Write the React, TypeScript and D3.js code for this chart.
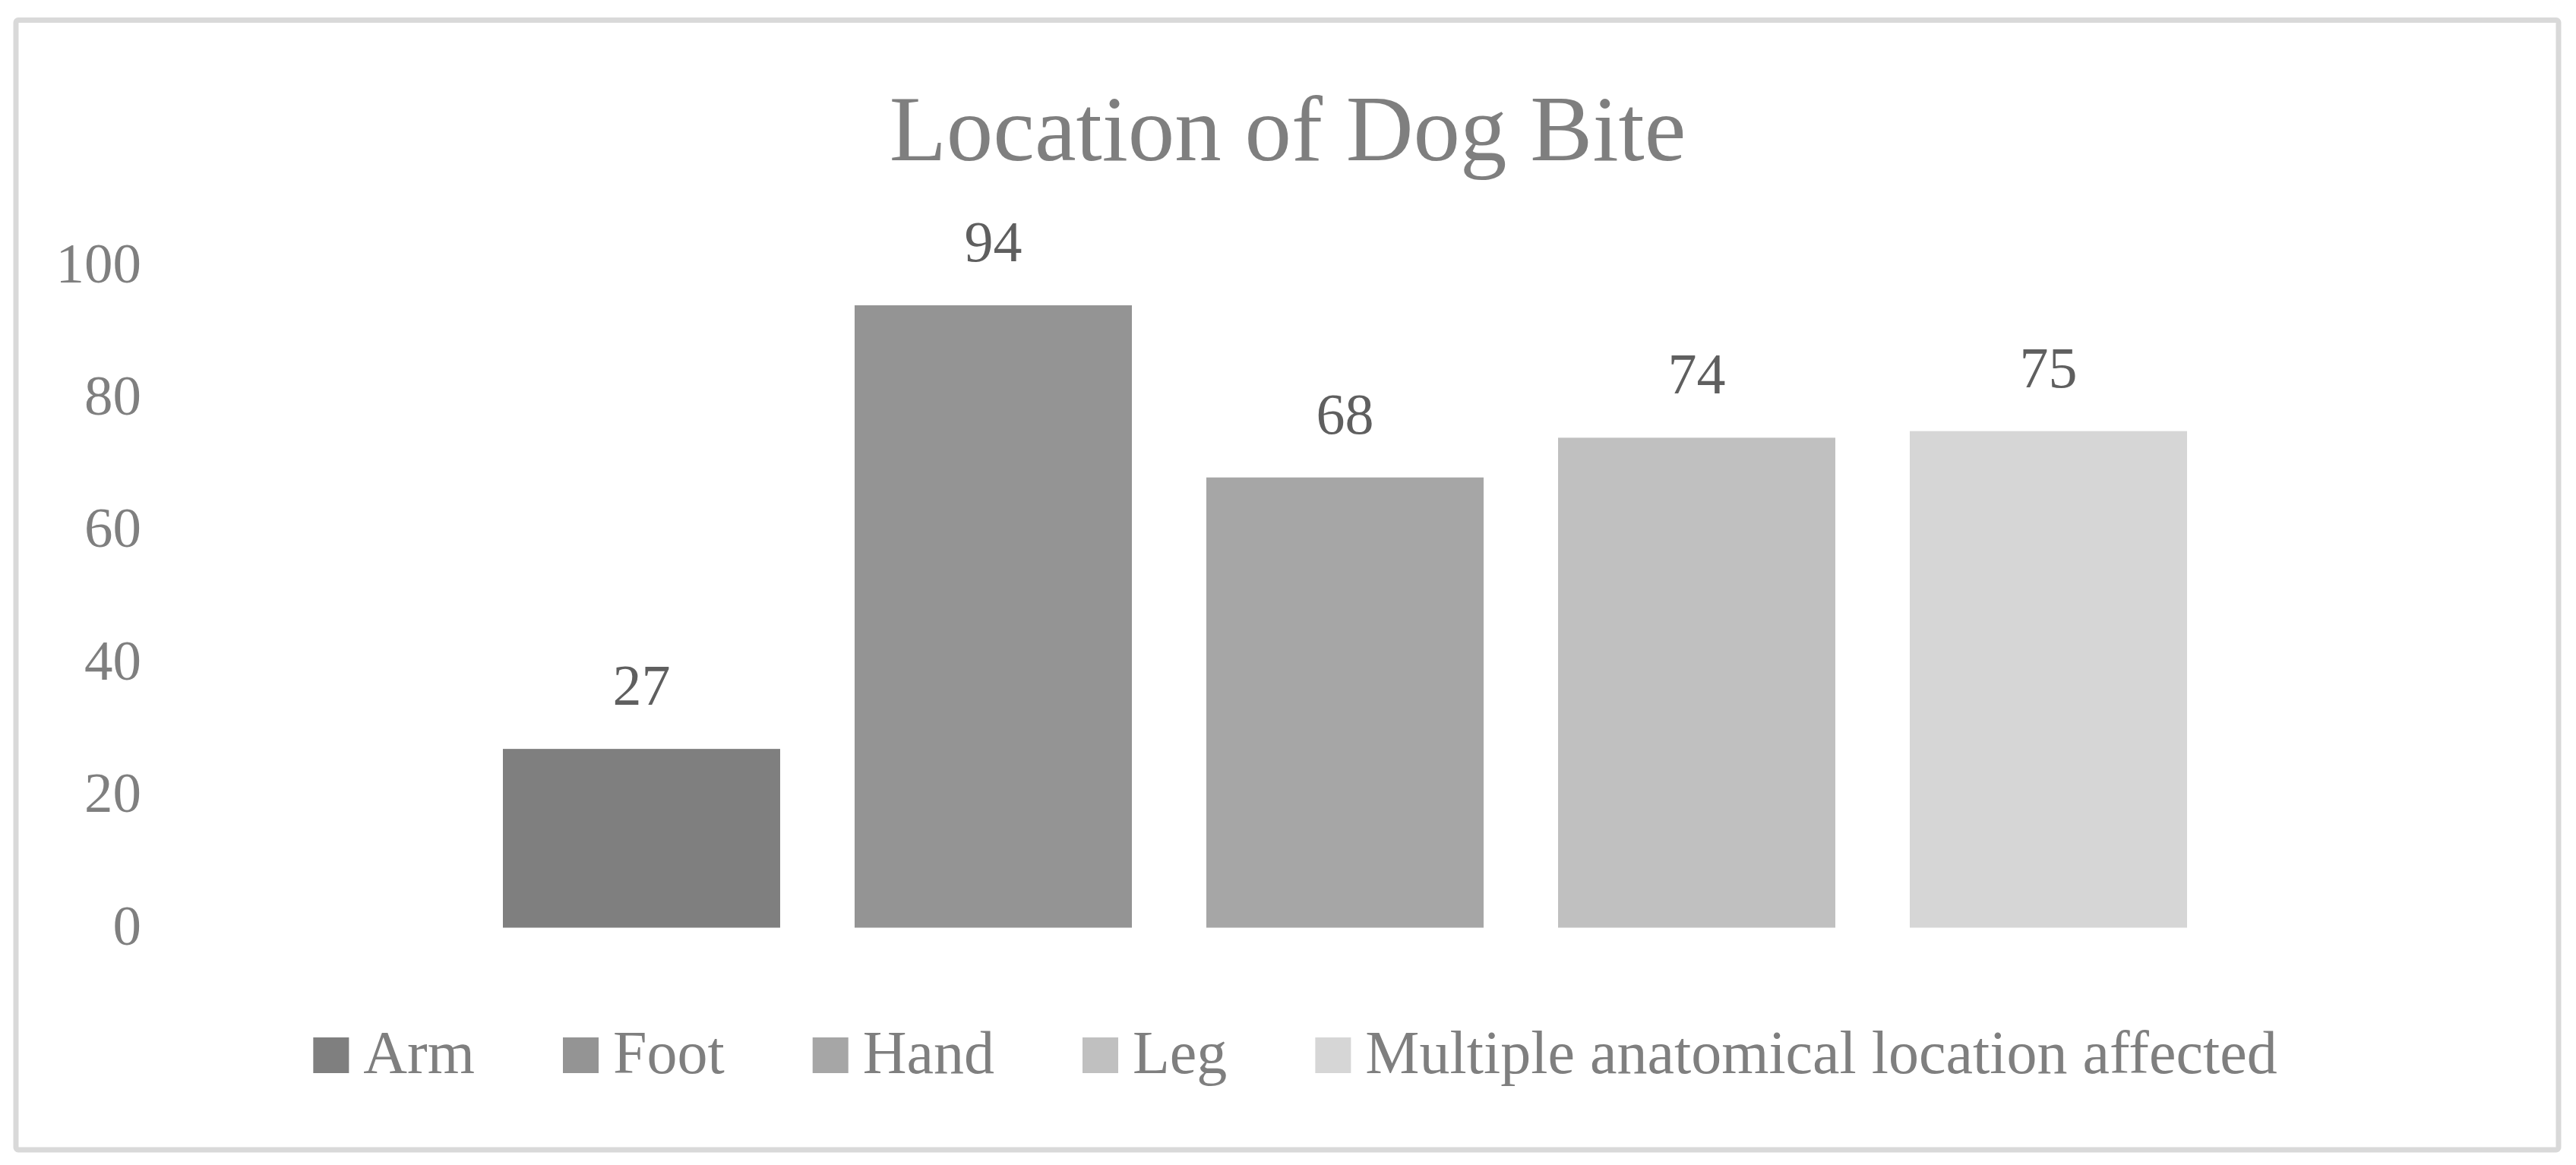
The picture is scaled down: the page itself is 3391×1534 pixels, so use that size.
import React, { useMemo } from "react";
import * as d3 from "d3";

const title = "Location of Dog Bite";
const seriesNames = ["Arm", "Foot", "Hand", "Leg", "Multiple anatomical location affected"];
const seriesValues = [27, 94, 68, 74, 75];
const seriesColors = ["#7f7f7f", "#949494", "#a6a6a6", "#c0c0c0", "#d6d6d6"];
const yTicks = [0, 20, 40, 60, 80, 100];

const W = 3391;
const H = 1534;
const FONT = "'Palatino Linotype', 'Book Antiqua', Palatino, 'Liberation Serif', serif";

function measure(text: string, size: number): number {
  if (typeof document === "undefined") return text.length * size * 0.45;
  const c = document.createElement("canvas");
  const ctx = c.getContext("2d");
  if (!ctx) return text.length * size * 0.45;
  ctx.font = `${size}px ${FONT}`;
  return ctx.measureText(text).width;
}

export default function App() {
  const x = d3.scaleBand<string>().domain(seriesNames).range([662, 2879]).paddingInner(0.2117).paddingOuter(0);
  const y = d3.scaleLinear().domain([0, 100]).range([1221.5, 349.7]);

  const legendFont = 80;
  const sw = 47;
  const swGap = 19;
  const itemGap = 116;
  const legend = useMemo(() => {
    const widths = seriesNames.map((n) => measure(n, legendFont));
    const total = widths.reduce((a, w) => a + sw + swGap + w, 0) + itemGap * (seriesNames.length - 1);
    let cx = 1705 - total / 2;
    return seriesNames.map((n, i) => {
      const item = { name: n, x: cx, color: seriesColors[i] };
      cx += sw + swGap + widths[i] + itemGap;
      return item;
    });
  }, []);

  const legendBaseline = 1413;

  return (
    <svg
      width={W}
      height={H}
      viewBox={`0 0 ${W} ${H}`}
      style={{ position: "absolute", left: 0, top: 0, background: "#ffffff" }}
      fontFamily={FONT}
    >
      <rect x={0} y={0} width={W} height={H} fill="#ffffff" />
      <rect x={21} y={26.5} width={3347} height={1487.5} fill="#ffffff" stroke="#d9d9d9" strokeWidth={7} rx={3} />

      <text x={1695} y={211} textAnchor="middle" fontSize={123} fill="#7f7f7f">
        {title}
      </text>

      {yTicks.map((t) => (
        <text key={t} x={186} y={y(t) + 22} textAnchor="end" fontSize={75} fill="#7f7f7f">
          {t}
        </text>
      ))}

      {seriesNames.map((n, i) => (
        <g key={n}>
          <rect
            x={x(n)}
            y={y(seriesValues[i])}
            width={x.bandwidth()}
            height={y(0) - y(seriesValues[i])}
            fill={seriesColors[i]}
          />
          <text
            x={(x(n) as number) + x.bandwidth() / 2}
            y={y(seriesValues[i]) - 58}
            textAnchor="middle"
            fontSize={76}
            fill="#5f5f5f"
          >
            {seriesValues[i]}
          </text>
        </g>
      ))}

      {legend.map((it) => (
        <g key={it.name}>
          <rect x={it.x} y={legendBaseline - sw} width={sw} height={sw} fill={it.color} />
          <text x={it.x + sw + swGap} y={legendBaseline} fontSize={legendFont} fill="#7f7f7f">
            {it.name}
          </text>
        </g>
      ))}
    </svg>
  );
}
